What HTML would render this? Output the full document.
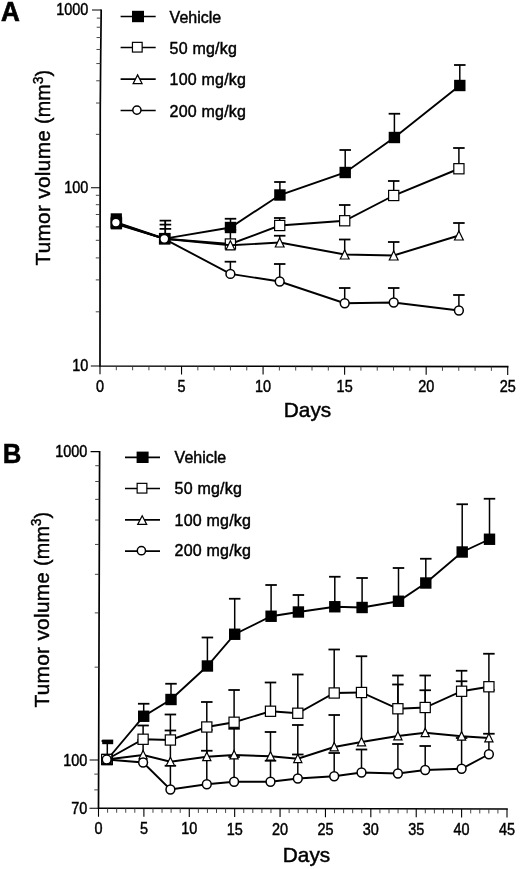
<!DOCTYPE html>
<html><head><meta charset="utf-8"><title>Figure</title>
<style>html,body{margin:0;padding:0;background:#fff}svg{display:block}</style>
</head><body>
<svg width="520" height="869" viewBox="0 0 520 869" font-family="'Liberation Sans', Arial, sans-serif" fill="#000">
<rect width="520" height="869" fill="#fff"/>
<polyline points="101.2,9.5 100.7,55 100.25,110 100.1,230 100.0,366.0 508.5,366.7" fill="none" stroke="#000" stroke-width="1.7" stroke-linejoin="miter"/>
<path d="M100.04 311.80h-4.3M100.06 279.90h-4.3M100.08 257.90h-4.3M100.09 240.30h-4.3M100.10 226.90h-4.3M100.12 214.50h-4.3M100.13 204.70h-4.3M100.14 195.30h-4.3M100.22 134.35h-4.3M100.31 103.02h-4.3M100.49 80.79h-4.3M100.63 63.55h-4.3M100.76 49.47h-4.3M100.89 37.56h-4.3M101.01 27.24h-4.3M101.11 18.14h-4.3M116.31 366.03v4.2M132.62 366.06v4.2M148.92 366.08v4.2M165.23 366.11v4.2M197.85 366.17v4.2M214.16 366.20v4.2M230.46 366.22v4.2M246.77 366.25v4.2M279.39 366.31v4.2M295.70 366.34v4.2M312.00 366.36v4.2M328.31 366.39v4.2M360.93 366.45v4.2M377.24 366.48v4.2M393.54 366.50v4.2M409.85 366.53v4.2M442.47 366.59v4.2M458.78 366.62v4.2M475.08 366.64v4.2M491.39 366.67v4.2" fill="none" stroke="#333" stroke-width="0.9"/>
<path d="M100.00 366.00h-9.2M100.15 187.80h-9.2M101.19 10.00h-9.2M100.00 366.00v8.3M181.54 366.14v8.3M263.08 366.28v8.3M344.62 366.42v8.3M426.16 366.56v8.3M507.70 366.70v8.3" fill="none" stroke="#000" stroke-width="1.1"/>
<g transform="translate(88.40,371.10) scale(0.915,1)"><text text-anchor="end" font-size="15.8" stroke="#000" stroke-width="0.45">10</text></g>
<g transform="translate(88.40,193.10) scale(0.915,1)"><text text-anchor="end" font-size="15.8" stroke="#000" stroke-width="0.45">100</text></g>
<g transform="translate(88.40,15.30) scale(0.915,1)"><text text-anchor="end" font-size="15.8" stroke="#000" stroke-width="0.45">1000</text></g>
<g transform="translate(100.00,391.80) scale(0.915,1)"><text text-anchor="middle" font-size="15.8" stroke="#000" stroke-width="0.45">0</text></g>
<g transform="translate(181.54,391.92) scale(0.915,1)"><text text-anchor="middle" font-size="15.8" stroke="#000" stroke-width="0.45">5</text></g>
<g transform="translate(263.08,392.04) scale(0.915,1)"><text text-anchor="middle" font-size="15.8" stroke="#000" stroke-width="0.45">10</text></g>
<g transform="translate(344.62,392.16) scale(0.915,1)"><text text-anchor="middle" font-size="15.8" stroke="#000" stroke-width="0.45">15</text></g>
<g transform="translate(426.16,392.28) scale(0.915,1)"><text text-anchor="middle" font-size="15.8" stroke="#000" stroke-width="0.45">20</text></g>
<g transform="translate(507.70,392.40) scale(0.915,1)"><text text-anchor="middle" font-size="15.8" stroke="#000" stroke-width="0.45">25</text></g>
<text x="307.5" y="417" text-anchor="middle" font-size="20.8" stroke="#000" stroke-width="0.45">Days</text>
<text transform="translate(50.2,265.6) rotate(-90)" font-size="20.8" letter-spacing="0.3" stroke="#000" stroke-width="0.45">Tumor volume</text><text transform="translate(50.2,124.0) rotate(-90) scale(0.95,1)" font-size="20.8" letter-spacing="0.15" stroke="#000" stroke-width="0.45">(mm<tspan dy="-7.3" font-size="14">3</tspan><tspan dy="7.3">)</tspan></text>
<g transform="translate(0.9,21.3) scale(.95,1)"><text font-size="27.4" font-weight="bold" stroke="#000" stroke-width="0.7">A</text></g>
<path d="M165.2 238V220.7M159.6 220.7h11.6M159.6 224.7h11.6M159.6 228.9h11.6" fill="none" stroke="#000" stroke-width="1.8"/>
<path d="M230.40 244.00V230.00" stroke="#000" stroke-width="1.5" fill="none"/><path d="M224.65 230.00H236.15" stroke="#000" stroke-width="1.8" fill="none"/><path d="M279.70 225.50V218.00" stroke="#000" stroke-width="1.5" fill="none"/><path d="M273.95 218.00H285.45" stroke="#000" stroke-width="1.8" fill="none"/><path d="M344.70 220.75V205.00" stroke="#000" stroke-width="1.5" fill="none"/><path d="M338.95 205.00H350.45" stroke="#000" stroke-width="1.8" fill="none"/><path d="M393.70 195.50V181.00" stroke="#000" stroke-width="1.5" fill="none"/><path d="M387.95 181.00H399.45" stroke="#000" stroke-width="1.8" fill="none"/><path d="M458.90 168.75V148.00" stroke="#000" stroke-width="1.5" fill="none"/><path d="M453.15 148.00H464.65" stroke="#000" stroke-width="1.8" fill="none"/><polyline fill="none" stroke="#000" stroke-width="1.9" points="116.40,223.50 164.60,238.80 230.40,244.00 279.70,225.50 344.70,220.75 393.70,195.50 458.90,168.75"/><rect x="111.30" y="218.40" width="10.20" height="10.20" fill="#fff" stroke="#000" stroke-width="1.2"/><rect x="159.50" y="233.70" width="10.20" height="10.20" fill="#fff" stroke="#000" stroke-width="1.2"/><rect x="225.30" y="238.90" width="10.20" height="10.20" fill="#fff" stroke="#000" stroke-width="1.2"/><rect x="274.60" y="220.40" width="10.20" height="10.20" fill="#fff" stroke="#000" stroke-width="1.2"/><rect x="339.60" y="215.65" width="10.20" height="10.20" fill="#fff" stroke="#000" stroke-width="1.2"/><rect x="388.60" y="190.40" width="10.20" height="10.20" fill="#fff" stroke="#000" stroke-width="1.2"/><rect x="453.80" y="163.65" width="10.20" height="10.20" fill="#fff" stroke="#000" stroke-width="1.2"/>
<path d="M279.70 242.50V235.75" stroke="#000" stroke-width="1.5" fill="none"/><path d="M273.95 235.75H285.45" stroke="#000" stroke-width="1.8" fill="none"/><path d="M344.70 254.50V239.50" stroke="#000" stroke-width="1.5" fill="none"/><path d="M338.95 239.50H350.45" stroke="#000" stroke-width="1.8" fill="none"/><path d="M393.70 255.50V242.00" stroke="#000" stroke-width="1.5" fill="none"/><path d="M387.95 242.00H399.45" stroke="#000" stroke-width="1.8" fill="none"/><path d="M458.90 235.50V223.00" stroke="#000" stroke-width="1.5" fill="none"/><path d="M453.15 223.00H464.65" stroke="#000" stroke-width="1.8" fill="none"/><polyline fill="none" stroke="#000" stroke-width="1.9" points="116.40,224.20 164.60,238.80 230.40,245.30 279.70,242.50 344.70,254.50 393.70,255.50 458.90,235.50"/><path d="M116.40 219.60L120.80 228.70L112.00 228.70Z" fill="#fff" stroke="#000" stroke-width="1.2" stroke-linejoin="miter"/><path d="M164.60 234.20L169.00 243.30L160.20 243.30Z" fill="#fff" stroke="#000" stroke-width="1.2" stroke-linejoin="miter"/><path d="M230.40 240.70L234.80 249.80L226.00 249.80Z" fill="#fff" stroke="#000" stroke-width="1.2" stroke-linejoin="miter"/><path d="M279.70 237.90L284.10 247.00L275.30 247.00Z" fill="#fff" stroke="#000" stroke-width="1.2" stroke-linejoin="miter"/><path d="M344.70 249.90L349.10 259.00L340.30 259.00Z" fill="#fff" stroke="#000" stroke-width="1.2" stroke-linejoin="miter"/><path d="M393.70 250.90L398.10 260.00L389.30 260.00Z" fill="#fff" stroke="#000" stroke-width="1.2" stroke-linejoin="miter"/><path d="M458.90 230.90L463.30 240.00L454.50 240.00Z" fill="#fff" stroke="#000" stroke-width="1.2" stroke-linejoin="miter"/>
<path d="M230.50 227.50V218.75" stroke="#000" stroke-width="1.5" fill="none"/><path d="M224.75 218.75H236.25" stroke="#000" stroke-width="1.8" fill="none"/><path d="M279.90 195.00V182.00" stroke="#000" stroke-width="1.5" fill="none"/><path d="M274.15 182.00H285.65" stroke="#000" stroke-width="1.8" fill="none"/><path d="M345.20 172.50V150.00" stroke="#000" stroke-width="1.5" fill="none"/><path d="M339.45 150.00H350.95" stroke="#000" stroke-width="1.8" fill="none"/><path d="M394.40 137.50V113.75" stroke="#000" stroke-width="1.5" fill="none"/><path d="M388.65 113.75H400.15" stroke="#000" stroke-width="1.8" fill="none"/><path d="M459.80 85.50V65.00" stroke="#000" stroke-width="1.5" fill="none"/><path d="M454.05 65.00H465.55" stroke="#000" stroke-width="1.8" fill="none"/><polyline fill="none" stroke="#000" stroke-width="1.9" points="116.40,222.30 164.80,238.60 230.50,227.50 279.90,195.00 345.20,172.50 394.40,137.50 459.80,85.50"/><rect x="110.70" y="216.60" width="11.4" height="11.4" fill="#000"/><rect x="159.10" y="232.90" width="11.4" height="11.4" fill="#000"/><rect x="224.80" y="221.80" width="11.4" height="11.4" fill="#000"/><rect x="274.20" y="189.30" width="11.4" height="11.4" fill="#000"/><rect x="339.50" y="166.80" width="11.4" height="11.4" fill="#000"/><rect x="388.70" y="131.80" width="11.4" height="11.4" fill="#000"/><rect x="454.10" y="79.80" width="11.4" height="11.4" fill="#000"/>
<rect x="110.7" y="213.3" width="11.2" height="15.4" fill="#000"/>
<path d="M230.40 273.90V261.70" stroke="#000" stroke-width="1.5" fill="none"/><path d="M224.65 261.70H236.15" stroke="#000" stroke-width="1.8" fill="none"/><path d="M279.70 281.50V264.00" stroke="#000" stroke-width="1.5" fill="none"/><path d="M273.95 264.00H285.45" stroke="#000" stroke-width="1.8" fill="none"/><path d="M344.70 303.25V288.00" stroke="#000" stroke-width="1.5" fill="none"/><path d="M338.95 288.00H350.45" stroke="#000" stroke-width="1.8" fill="none"/><path d="M393.70 302.50V288.00" stroke="#000" stroke-width="1.5" fill="none"/><path d="M387.95 288.00H399.45" stroke="#000" stroke-width="1.8" fill="none"/><path d="M458.90 310.50V295.00" stroke="#000" stroke-width="1.5" fill="none"/><path d="M453.15 295.00H464.65" stroke="#000" stroke-width="1.8" fill="none"/><polyline fill="none" stroke="#000" stroke-width="1.9" points="115.90,222.60 164.30,238.80 230.40,273.90 279.70,281.50 344.70,303.25 393.70,302.50 458.90,310.50"/><circle cx="115.90" cy="222.60" r="4.4" fill="#fff" stroke="#000" stroke-width="1.5"/><circle cx="164.30" cy="238.80" r="4.4" fill="#fff" stroke="#000" stroke-width="1.5"/><circle cx="230.40" cy="273.90" r="4.4" fill="#fff" stroke="#000" stroke-width="1.5"/><circle cx="279.70" cy="281.50" r="4.4" fill="#fff" stroke="#000" stroke-width="1.5"/><circle cx="344.70" cy="303.25" r="4.4" fill="#fff" stroke="#000" stroke-width="1.5"/><circle cx="393.70" cy="302.50" r="4.4" fill="#fff" stroke="#000" stroke-width="1.5"/><circle cx="458.90" cy="310.50" r="4.4" fill="#fff" stroke="#000" stroke-width="1.5"/>
<path d="M120.6 16.5H155.7" stroke="#000" stroke-width="1.7"/><rect x="132.00" y="10.80" width="12" height="11.4" fill="#000"/><text x="169.6" y="22.5" font-size="16" stroke="#000" stroke-width="0.45">Vehicle</text><path d="M120.6 47.5H155.7" stroke="#000" stroke-width="1.7"/><rect x="132.45" y="42.35" width="9.70" height="9.70" fill="#fff" stroke="#000" stroke-width="1.2"/><text x="169.6" y="53.8" font-size="16" letter-spacing="0.2" stroke="#000" stroke-width="0.45">50 mg/kg</text><path d="M120.6 79.1H155.7" stroke="#000" stroke-width="1.7"/><path d="M137.60 74.90L142.10 83.60L133.10 83.60Z" fill="#fff" stroke="#000" stroke-width="1.2" stroke-linejoin="miter"/><text x="169.6" y="85.3" font-size="16" letter-spacing="0.2" stroke="#000" stroke-width="0.45">100 mg/kg</text><path d="M120.6 110.5H155.7" stroke="#000" stroke-width="1.7"/><circle cx="136.90" cy="110.10" r="4.1" fill="#fff" stroke="#000" stroke-width="1.5"/><text x="169.6" y="116.7" font-size="16" letter-spacing="0.2" stroke="#000" stroke-width="0.45">200 mg/kg</text>
<path d="M99.6 451.1L98.5 808.2L507.8 809.0" fill="none" stroke="#000" stroke-width="1.7" stroke-linejoin="miter"/>
<path d="M98.50 808.20h-9M98.65 760.00h-9M99.60 451.60h-9M98.50 808.20v8.5M143.89 808.29v8.5M189.28 808.38v8.5M234.67 808.47v8.5M280.06 808.56v8.5M325.44 808.64v8.5M370.83 808.73v8.5M416.22 808.82v8.5M461.61 808.91v8.5M507.00 809.00v8.5" fill="none" stroke="#000" stroke-width="1.1"/>
<path d="M98.56 789.89h-4.3M98.61 774.11h-4.3M98.94 667.16h-4.3M99.10 612.86h-4.3M99.22 574.32h-4.3M99.31 544.44h-4.3M99.39 520.02h-4.3M99.45 499.37h-4.3M99.51 481.49h-4.3M99.56 465.71h-4.3M107.58 808.22v4.5M116.66 808.24v4.5M125.73 808.25v4.5M134.81 808.27v4.5M152.97 808.31v4.5M162.04 808.32v4.5M171.12 808.34v4.5M180.20 808.36v4.5M198.36 808.40v4.5M207.43 808.41v4.5M216.51 808.43v4.5M225.59 808.45v4.5M243.74 808.48v4.5M252.82 808.50v4.5M261.90 808.52v4.5M270.98 808.54v4.5M289.13 808.57v4.5M298.21 808.59v4.5M307.29 808.61v4.5M316.37 808.63v4.5M334.52 808.66v4.5M343.60 808.68v4.5M352.68 808.70v4.5M361.76 808.72v4.5M379.91 808.75v4.5M388.99 808.77v4.5M398.07 808.79v4.5M407.14 808.80v4.5M425.30 808.84v4.5M434.38 808.86v4.5M443.46 808.88v4.5M452.53 808.89v4.5M470.69 808.93v4.5M479.77 808.95v4.5M488.84 808.96v4.5M497.92 808.98v4.5" fill="none" stroke="#333" stroke-width="0.9"/>
<g transform="translate(87.30,813.90) scale(0.915,1)"><text text-anchor="end" font-size="15.8" stroke="#000" stroke-width="0.45">70</text></g>
<g transform="translate(87.30,765.80) scale(0.915,1)"><text text-anchor="end" font-size="15.8" stroke="#000" stroke-width="0.45">100</text></g>
<g transform="translate(87.30,457.00) scale(0.915,1)"><text text-anchor="end" font-size="15.8" stroke="#000" stroke-width="0.45">1000</text></g>
<g transform="translate(98.50,834.30) scale(0.915,1)"><text text-anchor="middle" font-size="15.8" stroke="#000" stroke-width="0.45">0</text></g>
<g transform="translate(143.89,834.39) scale(0.915,1)"><text text-anchor="middle" font-size="15.8" stroke="#000" stroke-width="0.45">5</text></g>
<g transform="translate(189.28,834.48) scale(0.915,1)"><text text-anchor="middle" font-size="15.8" stroke="#000" stroke-width="0.45">10</text></g>
<g transform="translate(234.67,834.57) scale(0.915,1)"><text text-anchor="middle" font-size="15.8" stroke="#000" stroke-width="0.45">15</text></g>
<g transform="translate(280.06,834.66) scale(0.915,1)"><text text-anchor="middle" font-size="15.8" stroke="#000" stroke-width="0.45">20</text></g>
<g transform="translate(325.44,834.74) scale(0.915,1)"><text text-anchor="middle" font-size="15.8" stroke="#000" stroke-width="0.45">25</text></g>
<g transform="translate(370.83,834.83) scale(0.915,1)"><text text-anchor="middle" font-size="15.8" stroke="#000" stroke-width="0.45">30</text></g>
<g transform="translate(416.22,834.92) scale(0.915,1)"><text text-anchor="middle" font-size="15.8" stroke="#000" stroke-width="0.45">35</text></g>
<g transform="translate(461.61,835.01) scale(0.915,1)"><text text-anchor="middle" font-size="15.8" stroke="#000" stroke-width="0.45">40</text></g>
<g transform="translate(507.00,835.10) scale(0.915,1)"><text text-anchor="middle" font-size="15.8" stroke="#000" stroke-width="0.45">45</text></g>
<text x="306.5" y="862" text-anchor="middle" font-size="20.8" stroke="#000" stroke-width="0.45">Days</text>
<text transform="translate(48.7,707.5) rotate(-90)" font-size="20.8" letter-spacing="0.3" stroke="#000" stroke-width="0.45">Tumor volume</text><text transform="translate(48.7,565.9) rotate(-90) scale(0.95,1)" font-size="20.8" letter-spacing="0.15" stroke="#000" stroke-width="0.45">(mm<tspan dy="-7.3" font-size="14">3</tspan><tspan dy="7.3">)</tspan></text>
<g transform="translate(2.7,463.0) scale(.94,1)"><text font-size="27.4" font-weight="bold" stroke="#000" stroke-width="0.5">B</text></g>
<path d="M107.30 759.50V741.00" stroke="#000" stroke-width="1.5" fill="none"/><path d="M101.55 741.00H113.05" stroke="#000" stroke-width="1.8" fill="none"/><path d="M143.70 716.25V703.75" stroke="#000" stroke-width="1.5" fill="none"/><path d="M137.95 703.75H149.45" stroke="#000" stroke-width="1.8" fill="none"/><path d="M171.00 699.50V683.75" stroke="#000" stroke-width="1.5" fill="none"/><path d="M165.25 683.75H176.75" stroke="#000" stroke-width="1.8" fill="none"/><path d="M207.40 666.00V637.50" stroke="#000" stroke-width="1.5" fill="none"/><path d="M201.65 637.50H213.15" stroke="#000" stroke-width="1.8" fill="none"/><path d="M234.70 634.25V598.75" stroke="#000" stroke-width="1.5" fill="none"/><path d="M228.95 598.75H240.45" stroke="#000" stroke-width="1.8" fill="none"/><path d="M271.10 616.25V585.00" stroke="#000" stroke-width="1.5" fill="none"/><path d="M265.35 585.00H276.85" stroke="#000" stroke-width="1.8" fill="none"/><path d="M298.40 612.00V595.00" stroke="#000" stroke-width="1.5" fill="none"/><path d="M292.65 595.00H304.15" stroke="#000" stroke-width="1.8" fill="none"/><path d="M334.80 606.75V576.75" stroke="#000" stroke-width="1.5" fill="none"/><path d="M329.05 576.75H340.55" stroke="#000" stroke-width="1.8" fill="none"/><path d="M362.10 607.50V578.00" stroke="#000" stroke-width="1.5" fill="none"/><path d="M356.35 578.00H367.85" stroke="#000" stroke-width="1.8" fill="none"/><path d="M398.50 601.25V568.00" stroke="#000" stroke-width="1.5" fill="none"/><path d="M392.75 568.00H404.25" stroke="#000" stroke-width="1.8" fill="none"/><path d="M425.80 583.00V558.75" stroke="#000" stroke-width="1.5" fill="none"/><path d="M420.05 558.75H431.55" stroke="#000" stroke-width="1.8" fill="none"/><path d="M462.20 552.00V504.25" stroke="#000" stroke-width="1.5" fill="none"/><path d="M456.45 504.25H467.95" stroke="#000" stroke-width="1.8" fill="none"/><path d="M489.50 539.25V498.75" stroke="#000" stroke-width="1.5" fill="none"/><path d="M483.75 498.75H495.25" stroke="#000" stroke-width="1.8" fill="none"/><path d="M143.10 739.25V725.50" stroke="#000" stroke-width="1.5" fill="none"/><path d="M137.35 725.50H148.85" stroke="#000" stroke-width="1.8" fill="none"/><path d="M170.40 740.00V714.50" stroke="#000" stroke-width="1.5" fill="none"/><path d="M164.65 714.50H176.15" stroke="#000" stroke-width="1.8" fill="none"/><path d="M206.80 727.00V702.00" stroke="#000" stroke-width="1.5" fill="none"/><path d="M201.05 702.00H212.55" stroke="#000" stroke-width="1.8" fill="none"/><path d="M234.10 722.25V690.00" stroke="#000" stroke-width="1.5" fill="none"/><path d="M228.35 690.00H239.85" stroke="#000" stroke-width="1.8" fill="none"/><path d="M270.50 711.25V682.50" stroke="#000" stroke-width="1.5" fill="none"/><path d="M264.75 682.50H276.25" stroke="#000" stroke-width="1.8" fill="none"/><path d="M297.80 713.25V674.50" stroke="#000" stroke-width="1.5" fill="none"/><path d="M292.05 674.50H303.55" stroke="#000" stroke-width="1.8" fill="none"/><path d="M334.20 693.00V649.50" stroke="#000" stroke-width="1.5" fill="none"/><path d="M328.45 649.50H339.95" stroke="#000" stroke-width="1.8" fill="none"/><path d="M361.50 692.50V656.25" stroke="#000" stroke-width="1.5" fill="none"/><path d="M355.75 656.25H367.25" stroke="#000" stroke-width="1.8" fill="none"/><path d="M397.90 708.75V675.50" stroke="#000" stroke-width="1.5" fill="none"/><path d="M392.15 675.50H403.65" stroke="#000" stroke-width="1.8" fill="none"/><path d="M425.20 707.50V675.50" stroke="#000" stroke-width="1.5" fill="none"/><path d="M419.45 675.50H430.95" stroke="#000" stroke-width="1.8" fill="none"/><path d="M461.60 691.25V670.75" stroke="#000" stroke-width="1.5" fill="none"/><path d="M455.85 670.75H467.35" stroke="#000" stroke-width="1.8" fill="none"/><path d="M488.90 686.75V653.75" stroke="#000" stroke-width="1.5" fill="none"/><path d="M483.15 653.75H494.65" stroke="#000" stroke-width="1.8" fill="none"/><path d="M143.10 755.00V740.00" stroke="#000" stroke-width="1.5" fill="none"/><path d="M137.35 740.00H148.85" stroke="#000" stroke-width="1.8" fill="none"/><path d="M170.40 761.75V730.50" stroke="#000" stroke-width="1.5" fill="none"/><path d="M164.65 730.50H176.15" stroke="#000" stroke-width="1.8" fill="none"/><path d="M206.80 756.75V730.00" stroke="#000" stroke-width="1.5" fill="none"/><path d="M201.05 730.00H212.55" stroke="#000" stroke-width="1.8" fill="none"/><path d="M234.10 755.00V728.75" stroke="#000" stroke-width="1.5" fill="none"/><path d="M228.35 728.75H239.85" stroke="#000" stroke-width="1.8" fill="none"/><path d="M270.50 756.25V732.00" stroke="#000" stroke-width="1.5" fill="none"/><path d="M264.75 732.00H276.25" stroke="#000" stroke-width="1.8" fill="none"/><path d="M297.80 758.75V725.00" stroke="#000" stroke-width="1.5" fill="none"/><path d="M292.05 725.00H303.55" stroke="#000" stroke-width="1.8" fill="none"/><path d="M334.20 747.00V715.00" stroke="#000" stroke-width="1.5" fill="none"/><path d="M328.45 715.00H339.95" stroke="#000" stroke-width="1.8" fill="none"/><path d="M361.50 742.00V695.00" stroke="#000" stroke-width="1.5" fill="none"/><path d="M355.75 695.00H367.25" stroke="#000" stroke-width="1.8" fill="none"/><path d="M397.90 736.00V684.50" stroke="#000" stroke-width="1.5" fill="none"/><path d="M392.15 684.50H403.65" stroke="#000" stroke-width="1.8" fill="none"/><path d="M425.20 732.75V690.25" stroke="#000" stroke-width="1.5" fill="none"/><path d="M419.45 690.25H430.95" stroke="#000" stroke-width="1.8" fill="none"/><path d="M461.60 736.25V681.25" stroke="#000" stroke-width="1.5" fill="none"/><path d="M455.85 681.25H467.35" stroke="#000" stroke-width="1.8" fill="none"/><path d="M488.90 738.00V690.00" stroke="#000" stroke-width="1.5" fill="none"/><path d="M483.15 690.00H494.65" stroke="#000" stroke-width="1.8" fill="none"/><path d="M170.40 789.50V765.75" stroke="#000" stroke-width="1.5" fill="none"/><path d="M164.65 765.75H176.15" stroke="#000" stroke-width="1.8" fill="none"/><path d="M206.80 784.25V750.75" stroke="#000" stroke-width="1.5" fill="none"/><path d="M201.05 750.75H212.55" stroke="#000" stroke-width="1.8" fill="none"/><path d="M234.10 781.75V757.00" stroke="#000" stroke-width="1.5" fill="none"/><path d="M228.35 757.00H239.85" stroke="#000" stroke-width="1.8" fill="none"/><path d="M270.50 781.75V760.75" stroke="#000" stroke-width="1.5" fill="none"/><path d="M264.75 760.75H276.25" stroke="#000" stroke-width="1.8" fill="none"/><path d="M297.80 778.50V754.50" stroke="#000" stroke-width="1.5" fill="none"/><path d="M292.05 754.50H303.55" stroke="#000" stroke-width="1.8" fill="none"/><path d="M334.20 776.25V753.00" stroke="#000" stroke-width="1.5" fill="none"/><path d="M328.45 753.00H339.95" stroke="#000" stroke-width="1.8" fill="none"/><path d="M361.50 772.50V749.50" stroke="#000" stroke-width="1.5" fill="none"/><path d="M355.75 749.50H367.25" stroke="#000" stroke-width="1.8" fill="none"/><path d="M397.90 773.50V744.00" stroke="#000" stroke-width="1.5" fill="none"/><path d="M392.15 744.00H403.65" stroke="#000" stroke-width="1.8" fill="none"/><path d="M425.20 770.00V746.00" stroke="#000" stroke-width="1.5" fill="none"/><path d="M419.45 746.00H430.95" stroke="#000" stroke-width="1.8" fill="none"/><path d="M461.60 768.75V738.00" stroke="#000" stroke-width="1.5" fill="none"/><path d="M455.85 738.00H467.35" stroke="#000" stroke-width="1.8" fill="none"/><path d="M488.90 754.25V733.75" stroke="#000" stroke-width="1.5" fill="none"/><path d="M483.15 733.75H494.65" stroke="#000" stroke-width="1.8" fill="none"/>
<path d="M102.20 741.9H113.20" stroke="#000" stroke-width="4.6"/>
<polyline fill="none" stroke="#000" stroke-width="1.9" points="107.30,759.50 143.70,716.25 171.00,699.50 207.40,666.00 234.70,634.25 271.10,616.25 298.40,612.00 334.80,606.75 362.10,607.50 398.50,601.25 425.80,583.00 462.20,552.00 489.50,539.25"/><rect x="101.60" y="753.80" width="11.4" height="11.4" fill="#000"/><rect x="138.00" y="710.55" width="11.4" height="11.4" fill="#000"/><rect x="165.30" y="693.80" width="11.4" height="11.4" fill="#000"/><rect x="201.70" y="660.30" width="11.4" height="11.4" fill="#000"/><rect x="229.00" y="628.55" width="11.4" height="11.4" fill="#000"/><rect x="265.40" y="610.55" width="11.4" height="11.4" fill="#000"/><rect x="292.70" y="606.30" width="11.4" height="11.4" fill="#000"/><rect x="329.10" y="601.05" width="11.4" height="11.4" fill="#000"/><rect x="356.40" y="601.80" width="11.4" height="11.4" fill="#000"/><rect x="392.80" y="595.55" width="11.4" height="11.4" fill="#000"/><rect x="420.10" y="577.30" width="11.4" height="11.4" fill="#000"/><rect x="456.50" y="546.30" width="11.4" height="11.4" fill="#000"/><rect x="483.80" y="533.55" width="11.4" height="11.4" fill="#000"/>
<polyline fill="none" stroke="#000" stroke-width="1.9" points="106.70,759.50 143.10,739.25 170.40,740.00 206.80,727.00 234.10,722.25 270.50,711.25 297.80,713.25 334.20,693.00 361.50,692.50 397.90,708.75 425.20,707.50 461.60,691.25 488.90,686.75"/><rect x="101.60" y="754.40" width="10.20" height="10.20" fill="#fff" stroke="#000" stroke-width="1.2"/><rect x="138.00" y="734.15" width="10.20" height="10.20" fill="#fff" stroke="#000" stroke-width="1.2"/><rect x="165.30" y="734.90" width="10.20" height="10.20" fill="#fff" stroke="#000" stroke-width="1.2"/><rect x="201.70" y="721.90" width="10.20" height="10.20" fill="#fff" stroke="#000" stroke-width="1.2"/><rect x="229.00" y="717.15" width="10.20" height="10.20" fill="#fff" stroke="#000" stroke-width="1.2"/><rect x="265.40" y="706.15" width="10.20" height="10.20" fill="#fff" stroke="#000" stroke-width="1.2"/><rect x="292.70" y="708.15" width="10.20" height="10.20" fill="#fff" stroke="#000" stroke-width="1.2"/><rect x="329.10" y="687.90" width="10.20" height="10.20" fill="#fff" stroke="#000" stroke-width="1.2"/><rect x="356.40" y="687.40" width="10.20" height="10.20" fill="#fff" stroke="#000" stroke-width="1.2"/><rect x="392.80" y="703.65" width="10.20" height="10.20" fill="#fff" stroke="#000" stroke-width="1.2"/><rect x="420.10" y="702.40" width="10.20" height="10.20" fill="#fff" stroke="#000" stroke-width="1.2"/><rect x="456.50" y="686.15" width="10.20" height="10.20" fill="#fff" stroke="#000" stroke-width="1.2"/><rect x="483.80" y="681.65" width="10.20" height="10.20" fill="#fff" stroke="#000" stroke-width="1.2"/>
<polyline fill="none" stroke="#000" stroke-width="1.9" points="106.70,759.50 143.10,755.00 170.40,761.75 206.80,756.75 234.10,755.00 270.50,756.25 297.80,758.75 334.20,747.00 361.50,742.00 397.90,736.00 425.20,732.75 461.60,736.25 488.90,738.00"/><path d="M106.70 754.90L110.80 763.30L102.60 763.30Z" fill="#fff" stroke="#000" stroke-width="1.2" stroke-linejoin="miter"/><path d="M143.10 750.40L147.20 758.80L139.00 758.80Z" fill="#fff" stroke="#000" stroke-width="1.2" stroke-linejoin="miter"/><path d="M170.40 757.15L174.50 765.55L166.30 765.55Z" fill="#fff" stroke="#000" stroke-width="1.2" stroke-linejoin="miter"/><path d="M206.80 752.15L210.90 760.55L202.70 760.55Z" fill="#fff" stroke="#000" stroke-width="1.2" stroke-linejoin="miter"/><path d="M234.10 750.40L238.20 758.80L230.00 758.80Z" fill="#fff" stroke="#000" stroke-width="1.2" stroke-linejoin="miter"/><path d="M270.50 751.65L274.60 760.05L266.40 760.05Z" fill="#fff" stroke="#000" stroke-width="1.2" stroke-linejoin="miter"/><path d="M297.80 754.15L301.90 762.55L293.70 762.55Z" fill="#fff" stroke="#000" stroke-width="1.2" stroke-linejoin="miter"/><path d="M334.20 742.40L338.30 750.80L330.10 750.80Z" fill="#fff" stroke="#000" stroke-width="1.2" stroke-linejoin="miter"/><path d="M361.50 737.40L365.60 745.80L357.40 745.80Z" fill="#fff" stroke="#000" stroke-width="1.2" stroke-linejoin="miter"/><path d="M397.90 731.40L402.00 739.80L393.80 739.80Z" fill="#fff" stroke="#000" stroke-width="1.2" stroke-linejoin="miter"/><path d="M425.20 728.15L429.30 736.55L421.10 736.55Z" fill="#fff" stroke="#000" stroke-width="1.2" stroke-linejoin="miter"/><path d="M461.60 731.65L465.70 740.05L457.50 740.05Z" fill="#fff" stroke="#000" stroke-width="1.2" stroke-linejoin="miter"/><path d="M488.90 733.40L493.00 741.80L484.80 741.80Z" fill="#fff" stroke="#000" stroke-width="1.2" stroke-linejoin="miter"/>
<polyline fill="none" stroke="#000" stroke-width="1.9" points="106.70,759.50 143.10,762.50 170.40,789.50 206.80,784.25 234.10,781.75 270.50,781.75 297.80,778.50 334.20,776.25 361.50,772.50 397.90,773.50 425.20,770.00 461.60,768.75 488.90,754.25"/><circle cx="106.70" cy="759.50" r="4.4" fill="#fff" stroke="#000" stroke-width="1.5"/><circle cx="143.10" cy="762.50" r="4.4" fill="#fff" stroke="#000" stroke-width="1.5"/><circle cx="170.40" cy="789.50" r="4.4" fill="#fff" stroke="#000" stroke-width="1.5"/><circle cx="206.80" cy="784.25" r="4.4" fill="#fff" stroke="#000" stroke-width="1.5"/><circle cx="234.10" cy="781.75" r="4.4" fill="#fff" stroke="#000" stroke-width="1.5"/><circle cx="270.50" cy="781.75" r="4.4" fill="#fff" stroke="#000" stroke-width="1.5"/><circle cx="297.80" cy="778.50" r="4.4" fill="#fff" stroke="#000" stroke-width="1.5"/><circle cx="334.20" cy="776.25" r="4.4" fill="#fff" stroke="#000" stroke-width="1.5"/><circle cx="361.50" cy="772.50" r="4.4" fill="#fff" stroke="#000" stroke-width="1.5"/><circle cx="397.90" cy="773.50" r="4.4" fill="#fff" stroke="#000" stroke-width="1.5"/><circle cx="425.20" cy="770.00" r="4.4" fill="#fff" stroke="#000" stroke-width="1.5"/><circle cx="461.60" cy="768.75" r="4.4" fill="#fff" stroke="#000" stroke-width="1.5"/><circle cx="488.90" cy="754.25" r="4.4" fill="#fff" stroke="#000" stroke-width="1.5"/>
<path d="M125.0 457.3H160.0" stroke="#000" stroke-width="1.7"/><rect x="136.60" y="451.60" width="12" height="11.4" fill="#000"/><text x="174.6" y="462.8" font-size="16" stroke="#000" stroke-width="0.45">Vehicle</text><path d="M125.0 488.5H160.0" stroke="#000" stroke-width="1.7"/><rect x="137.15" y="483.35" width="9.70" height="9.70" fill="#fff" stroke="#000" stroke-width="1.2"/><text x="174.6" y="494.2" font-size="16" letter-spacing="0.2" stroke="#000" stroke-width="0.45">50 mg/kg</text><path d="M125.0 519.9H160.0" stroke="#000" stroke-width="1.7"/><path d="M142.20 515.70L146.70 524.40L137.70 524.40Z" fill="#fff" stroke="#000" stroke-width="1.2" stroke-linejoin="miter"/><text x="174.6" y="525.6" font-size="16" letter-spacing="0.2" stroke="#000" stroke-width="0.45">100 mg/kg</text><path d="M125.0 551.1H160.0" stroke="#000" stroke-width="1.7"/><circle cx="141.40" cy="550.70" r="4.1" fill="#fff" stroke="#000" stroke-width="1.5"/><text x="174.6" y="556.4" font-size="16" letter-spacing="0.2" stroke="#000" stroke-width="0.45">200 mg/kg</text>
</svg>
</body></html>
